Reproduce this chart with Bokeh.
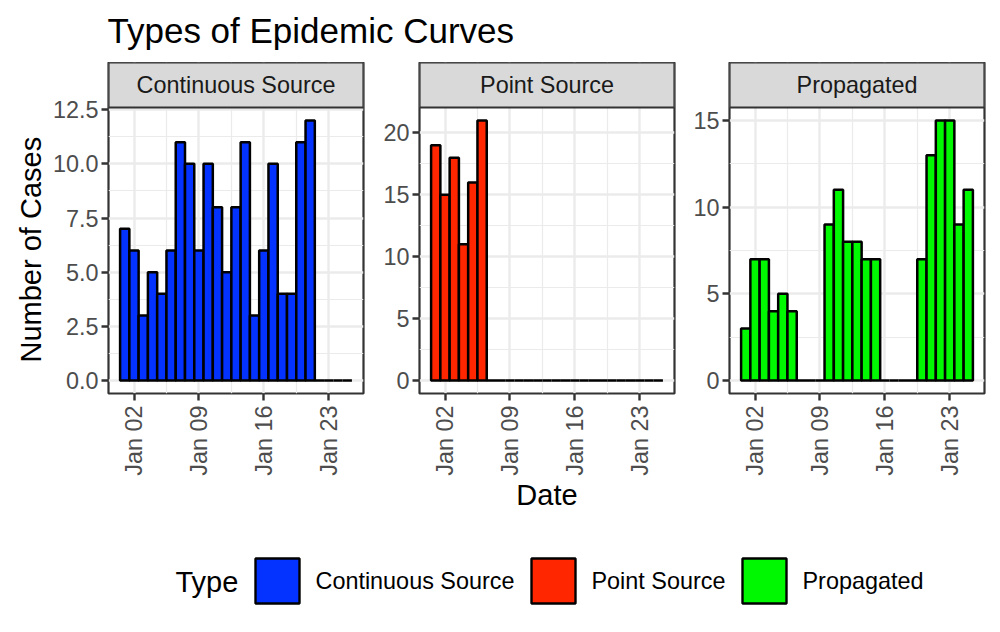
import math
import pandas as pd
from bokeh.plotting import figure
from bokeh.layouts import column, row
from bokeh.models import (Range1d, FixedTicker, DatetimeTickFormatter, PrintfTickFormatter,
                          ColumnDataSource, BoxAnnotation, Label, Title)
from bokeh.core.properties import value
from bokeh.embed import file_html
from bokeh.resources import INLINE

# ---------------- data ----------------
title_text = "Types of Epidemic Curves"
categories = ["Continuous Source", "Point Source", "Propagated"]
colors = ["#0433FF", "#FF2600", "#00F900"]
dates = pd.date_range("2024-01-01", "2024-01-25", freq="D")
continuous = [7, 6, 3, 5, 4, 6, 11, 10, 6, 10, 8, 5, 8, 11, 3, 6, 10, 4, 4, 11, 12, 0, 0, 0, 0]
point = [19, 15, 18, 11, 16, 21, 0, 0, 0, 0, 0, 0, 0, 0, 0, 0, 0, 0, 0, 0, 0, 0, 0, 0, 0]
propagated = [3, 7, 7, 4, 5, 4, 0, 0, 0, 9, 11, 8, 8, 7, 7, 0, 0, 0, 0, 7, 13, 15, 15, 9, 11]
series = [continuous, point, propagated]
x_tick_dates = ["2024-01-02", "2024-01-09", "2024-01-16", "2024-01-23"]
x_minor_dates = ["2024-01-05 12:00", "2024-01-12 12:00", "2024-01-19 12:00"]
y_ticks = [[0, 2.5, 5, 7.5, 10, 12.5], [0, 5, 10, 15, 20], [0, 5, 10, 15]]
y_minor = [[1.25, 3.75, 6.25, 8.75, 11.25], [2.5, 7.5, 12.5, 17.5], [2.5, 7.5, 12.5]]
y_formats = ["%.1f", "%d", "%d"]
x_label = "Date"
y_label = "Number of Cases"
legend_title = "Type"

# ---------------- style / layout ----------------
FONT = "Liberation Sans"
BSHIFT = 0.36  # baseline compensation (em)
DAY = 86400000.0
def ms(t):
    return pd.Timestamp(t).value / 1e6

frame_w, panel_h, strip_h = 255, 286, 45
left_b = [108, 48, 47]
right_b = [8, 8, 16]
bottom_b = 132
title_h = 62
legend_h = 107

x_ms = [ms(d) for d in dates]
span = (x_ms[-1] - x_ms[0]) + DAY
x_lo = x_ms[0] - DAY / 2 - 0.05 * span
x_hi = x_ms[-1] + DAY / 2 + 0.05 * span
x_mid = (x_lo + x_hi) / 2

# title
tf = figure(frame_width=1000, frame_height=title_h, x_range=(0, 1000), y_range=(0, title_h),
            toolbar_location=None, output_backend="svg", min_border=0,
            x_axis_location=None, y_axis_location=None, outline_line_color=None)
tf.grid.visible = False
tf.text(x=[107], y=[title_h - 40 + BSHIFT * 35 - 3], text=[title_text], text_font=value(FONT),
        text_font_size="35px", text_color="black", text_align="left", text_baseline="alphabetic")

panels = []
for i, cat in enumerate(categories):
    vals = series[i]
    vmax = max(vals)
    y_lo, y_hi = -0.05 * vmax, 1.05 * vmax
    upp = (y_hi - y_lo) / panel_h
    y_top = y_hi + strip_h * upp
    p = figure(frame_width=frame_w, frame_height=panel_h + strip_h, x_axis_type="datetime",
               x_range=Range1d(x_lo, x_hi), y_range=Range1d(y_lo, y_top),
               toolbar_location=None, output_backend="svg",
               min_border_left=left_b[i], min_border_right=right_b[i], min_border_top=0,
               min_border_bottom=bottom_b,
               outline_line_color="#333333", outline_line_width=2.2, background_fill_color="white")
    src = ColumnDataSource(dict(x=x_ms, top=vals))
    p.vbar(x="x", top="top", bottom=0, width=DAY, source=src, fill_color=colors[i],
           line_color="black", line_width=2.5)

    # facet strip
    p.add_layout(BoxAnnotation(bottom=y_hi, fill_color="#d9d9d9", fill_alpha=1.0,
                               line_color="#333333", line_alpha=1.0, line_width=2.2))
    p.add_layout(Label(x=x_mid, y=y_hi + (13.7 + BSHIFT * 23.4) * upp, text=cat,
                       text_font=FONT, text_font_size="23.4px", text_color="#1a1a1a",
                       text_align="center", text_baseline="alphabetic"))

    p.xaxis.ticker = FixedTicker(ticks=[ms(t) for t in x_tick_dates], minor_ticks=[ms(t) for t in x_minor_dates])
    p.xaxis.formatter = DatetimeTickFormatter(days="%b %d", months="%b %d", years="%b %d", hours="%b %d")
    p.xaxis.major_label_orientation = math.pi / 2
    p.yaxis.ticker = FixedTicker(ticks=y_ticks[i], minor_ticks=y_minor[i])
    p.yaxis.formatter = PrintfTickFormatter(format=y_formats[i])

    for ax in (p.xaxis[0], p.yaxis[0]):
        ax.axis_line_color = None
        ax.major_tick_line_color = "#333333"
        ax.major_tick_line_width = 2.4
        ax.major_tick_out = 7
        ax.major_tick_in = 0
        ax.minor_tick_out = 0
        ax.minor_tick_in = 0
        ax.major_label_text_font = FONT
        ax.major_label_text_font_size = "23.4px"
        ax.major_label_text_color = "#4d4d4d"
        ax.axis_label_text_font = FONT
        ax.axis_label_text_font_size = "29px"
        ax.axis_label_text_font_style = "normal"
        ax.axis_label_text_color = "black"
    p.yaxis.major_label_standoff = 3
    p.xaxis.major_label_standoff = 5
    p.xaxis.axis_label_standoff = 0
    if i == 0:
        # y-axis title centred on the panel (not on panel + strip)
        p.add_layout(Title(text=y_label, align="left", offset=31, text_font=FONT,
                           text_font_size="29px", text_font_style="normal", text_color="black",
                           standoff=5, vertical_align="bottom"), "left")
    if i == 1:
        p.xaxis.axis_label = x_label

    p.grid.grid_line_color = "#ebebeb"
    p.grid.grid_line_width = 2.4
    p.grid.minor_grid_line_color = "#ebebeb"
    p.grid.minor_grid_line_width = 1.2
    panels.append(p)

# legend
lf = figure(frame_width=1000, frame_height=legend_h, x_range=(0, 1000), y_range=(0, legend_h),
            toolbar_location=None, output_backend="svg", min_border=0,
            x_axis_location=None, y_axis_location=None, outline_line_color=None)
lf.grid.visible = False
ref_top = title_h + strip_h + panel_h + bottom_b  # page y of legend area top
lf.text(x=[175], y=[(ref_top + legend_h) - 592 + BSHIFT * 29], text=[legend_title], text_font=value(FONT),
        text_font_size="29px", text_color="black", text_align="left", text_baseline="alphabetic")
key_left = [255, 531, 742]
key_w, key_h = 44, 45
key_cy = (ref_top + legend_h) - 580.5
lf.rect(x=[k + key_w / 2 for k in key_left], y=[key_cy] * 3, width=key_w, height=key_h,
        fill_color=colors, line_color="black", line_width=2.4)
lf.text(x=[k + key_w + 16 for k in key_left], y=[key_cy - 8.5 + BSHIFT * 23.4] * 3, text=categories,
        text_font=value(FONT), text_font_size="23.4px", text_color="black",
        text_align="left", text_baseline="alphabetic")

layout = column(tf, row(*panels), lf)
open("out.html", "w").write(file_html(layout, INLINE))
